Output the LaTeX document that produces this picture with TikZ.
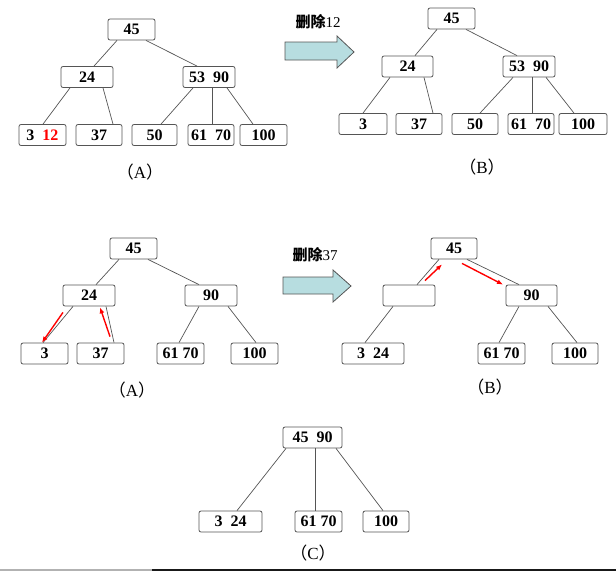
\documentclass[tikz,border=0pt]{standalone}
\usepackage{fontspec}
\setmainfont{Liberation Serif}
\newfontfamily\cjk{Noto Sans CJK SC}
\usetikzlibrary{arrows.meta}

\definecolor{boxgray}{RGB}{85,85,85}
\definecolor{arrowfill}{RGB}{183,221,224}

\tikzset{
  keybox/.style={draw=boxgray, line width=0.8pt, rounded corners=2pt, fill=white,
    minimum width=47pt, minimum height=21pt, inner sep=0pt,
    font=\fontsize{16}{18}\selectfont\bfseries},
  edge/.style={draw=boxgray, line width=0.7pt},
  moveline/.style={draw=red, line width=1.4pt, -{Latex[length=6pt,width=5pt]}},
  bigarrow/.style={draw=boxgray, line width=0.8pt, fill=arrowfill},
  caption/.style={inner sep=0pt, font=\fontsize{17}{19}\selectfont},
  steplabel/.style={inner sep=0pt, font=\fontsize{15}{17}\selectfont}
}

\begin{document}
\begin{tikzpicture}[x=1pt, y=-1pt]
    \useasboundingbox (0,0) rectangle (616,571);

    % first deletion, before
    \node[keybox] (a45) at (131.5,29.5) {45};
    \node[keybox, minimum width=52pt] (a24) at (87,77) {24};
    \node[keybox, minimum width=52pt] (a5390) at (209,77) {53~~90};
    \node[keybox] (a312) at (42.5,135) {3~~\textcolor{red}{12}};
    \node[keybox, minimum width=46pt] (a37) at (99,135) {37};
    \node[keybox, minimum width=45pt] (a50) at (154.5,135) {50};
    \node[keybox, minimum width=46pt] (a6170) at (211,135) {61~~70};
    \node[keybox] (a100) at (263.5,135) {100};
    \node[caption] (acap) at (140,172) {{\cjk（}A{\cjk）}};

    \draw[edge] ([xshift=-14.5pt]a45.south) -- ([xshift=7pt]a24.north);
    \draw[edge] ([xshift=14.5pt]a45.south) -- ([xshift=-12pt]a5390.north);
    \draw[edge] ([xshift=-17pt]a24.south) -- ([xshift=0.5pt]a312.north);
    \draw[edge] ([xshift=16pt]a24.south) -- ([xshift=14pt]a37.north);
    \draw[edge] ([xshift=-16pt]a5390.south) -- ([xshift=6.5pt]a50.north);
    \draw[edge] ([xshift=3pt]a5390.south) -- ([xshift=1pt]a6170.north);
    \draw[edge] ([xshift=18pt]a5390.south) -- ([xshift=-10.5pt]a100.north);

    % arrow 1
    \filldraw[bigarrow] (285,42) -- (337,42) -- (337,36) -- (354,52) -- (337,68) -- (337,60) -- (285,60) -- cycle;
    \node[steplabel] (del12) at (318,22) {{\cjk\bfseries 删除}12};

    % first deletion, after
    \node[keybox] (b45) at (451.5,18.5) {45};
    \node[keybox, minimum width=51pt] (b24) at (407.5,66.5) {24};
    \node[keybox, minimum width=52pt] (b5390) at (529,66.5) {53~~90};
    \node[keybox, minimum width=48pt] (b3) at (363,124) {3};
    \node[keybox, minimum width=46pt] (b37) at (419,124) {37};
    \node[keybox, minimum width=46pt] (b50) at (475,124) {50};
    \node[keybox, minimum width=46pt] (b6170) at (531,124) {61~~70};
    \node[keybox, minimum width=48pt] (b100) at (583,124) {100};
    \node[caption] (bcap) at (482,167) {{\cjk（}B{\cjk）}};

    \draw[edge] ([xshift=-14.5pt]b45.south) -- ([xshift=7.5pt]b24.north);
    \draw[edge] ([xshift=14.5pt]b45.south) -- ([xshift=-12pt]b5390.north);
    \draw[edge] ([xshift=-17.5pt]b24.south) -- (b3.north);
    \draw[edge] ([xshift=16.5pt]b24.south) -- ([xshift=14pt]b37.north);
    \draw[edge] ([xshift=-16pt]b5390.south) -- ([xshift=5pt]b50.north);
    \draw[edge] ([xshift=3pt]b5390.south) -- ([xshift=1pt]b6170.north);
    \draw[edge] ([xshift=17pt]b5390.south) -- ([xshift=-9pt]b100.north);

    % second deletion, before
    \node[keybox] (c45) at (133.5,248.5) {45};
    \node[keybox, minimum width=52pt] (c24) at (89,295.5) {24};
    \node[keybox, minimum width=52pt] (c90) at (211,295.5) {90};
    \node[keybox] (c3) at (44.5,353.5) {3};
    \node[keybox] (c37) at (100.5,353.5) {37};
    \node[keybox] (c6170) at (180.5,353.5) {61 70};
    \node[keybox] (c100) at (254.5,353.5) {100};
    \node[caption] (ccap) at (132,390) {{\cjk（}A{\cjk）}};

    \draw[edge] ([xshift=-14.5pt]c45.south) -- ([xshift=7pt]c24.north);
    \draw[edge] ([xshift=14.5pt]c45.south) -- ([xshift=-12pt]c90.north);
    \draw[edge] ([xshift=-16pt]c24.south) -- ([xshift=-1.5pt]c3.north);
    \draw[edge] ([xshift=17pt]c24.south) -- ([xshift=13.5pt]c37.north);
    \draw[edge] ([xshift=-12pt]c90.south) -- ([xshift=-1.5pt]c6170.north);
    \draw[edge] ([xshift=17pt]c90.south) -- ([xshift=1.5pt]c100.north);

    \draw[moveline] ([xshift=-26pt,yshift=-6pt]c24.south) -- ([xshift=-2.5pt]c3.north);
    \draw[moveline] ([xshift=9.5pt,yshift=6pt]c37.north) -- ([xshift=11pt,yshift=-1pt]c24.south);

    % arrow 2
    \filldraw[bigarrow] (283,277) -- (333,277) -- (333,270) -- (351,286) -- (333,302) -- (333,294) -- (283,294) -- cycle;
    \node[steplabel] (del37) at (315,255) {{\cjk\bfseries 删除}37};

    % second deletion, after
    \node[keybox, minimum width=46pt] (d45) at (454,248.5) {45};
    \node[keybox, minimum width=52pt] (dnil) at (409,295.5) {};
    \node[keybox, minimum width=51pt] (d90) at (531.5,295.5) {90};
    \node[keybox, minimum width=62pt] (d324) at (373,353.5) {3~~24};
    \node[keybox] (d6170) at (501.5,353.5) {61 70};
    \node[keybox, minimum width=46pt] (d100) at (575,353.5) {100};
    \node[caption] (dcap) at (490,387) {{\cjk（}B{\cjk）}};

    \draw[edge] ([xshift=-15pt]d45.south) -- ([xshift=8pt]dnil.north);
    \draw[edge] ([xshift=13pt]d45.south) -- ([xshift=-12.5pt]d90.north);
    \draw[edge] ([xshift=-16pt]dnil.south) -- ([xshift=-8pt]d324.north);
    \draw[edge] ([xshift=-12.5pt]d90.south) -- ([xshift=-2.5pt]d6170.north);
    \draw[edge] ([xshift=16.5pt]d90.south) -- ([xshift=2pt]d100.north);

    \draw[moveline] ([xshift=16pt,yshift=4pt]dnil.north) -- ([xshift=-12pt,yshift=-5pt]d45.south);
    \draw[moveline] ([xshift=8pt,yshift=-4pt]d45.south) -- ([xshift=-28.5pt]d90.north);

    % merged result
    \node[keybox, minimum width=59pt] (e4590) at (312.5,437.5) {45~~90};
    \node[keybox, minimum width=63pt] (e324) at (230.5,521.5) {3~~24};
    \node[keybox] (e6170) at (318.5,521.5) {61 70};
    \node[keybox, minimum width=46pt] (e100) at (386,521.5) {100};
    \node[caption] (ecap) at (313,553) {{\cjk（}C{\cjk）}};

    \draw[edge] ([xshift=-26.5pt]e4590.south) -- ([xshift=6.5pt]e324.north);
    \draw[edge] ([xshift=2.5pt]e4590.south) -- ([xshift=-3.5pt]e6170.north);
    \draw[edge] ([xshift=23.5pt]e4590.south) -- ([xshift=-3pt]e100.north);

    % bottom rule
    \draw[line width=1.2pt, black!30] (0,570) -- (152,570);
    \draw[line width=1.2pt, black!90] (152,570) -- (616,570);
\end{tikzpicture}
\end{document}
